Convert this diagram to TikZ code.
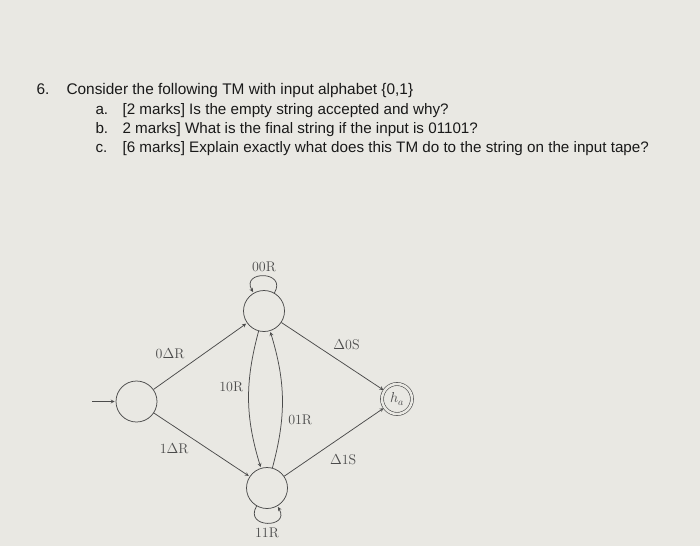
\documentclass[tikz,border=0pt]{standalone}
\usepackage{amsmath}
\usepackage{fontspec}
\newfontfamily\qfont{Liberation Sans}
\usetikzlibrary{arrows, positioning, automata}

\definecolor{paper}{RGB}{233,232,227}
\definecolor{ink}{RGB}{25,25,25}
\definecolor{pen}{RGB}{75,75,75}

\begin{document}
\begin{tikzpicture}[x=1pt, y=-1pt,
    ->,
    >=stealth,
    shorten >=1pt,
    state/.style={circle, draw=pen, line width=0.75pt, minimum size=41pt, inner sep=0pt},
    accept/.style={circle, draw=pen, line width=0.6pt, double=paper, double distance=2.5pt, minimum size=30pt, inner sep=0pt},
    lbl/.style={font=\fontsize{14}{14}\selectfont, text=pen},
    question/.style={font=\qfont\fontsize{15.2}{17}\selectfont, anchor=base west, text=ink},
    mystyle/.style={->, pen, line width=0.75pt}
    ]
    \fill[paper] (0,0) rectangle (700,546);
    \useasboundingbox (0,0) rectangle (700,546);
    % Question
    \node[question, font=\qfont\fontsize{15.4}{17}\selectfont] (N6) at (33,94) {6.};
    \node[question, font=\qfont\fontsize{15.4}{17}\selectfont] (Q) at (63,94) {Consider the following TM with input alphabet \{0,1\}};
    \node[question] (Ia) at (92,114) {a.};
    \node[question] (Qa) at (119,114) {[2 marks] Is the empty string accepted and why?};
    \node[question] (Ib) at (92,133) {b.};
    \node[question] (Qb) at (119,133) {2 marks] What is the final string if the input is 01101?};
    \node[question] (Ic) at (92,152) {c.};
    \node[question] (Qc) at (119,152) {[6 marks] Explain exactly what does this TM do to the string on the input tape?};
    % Nodes
    \node[state] (q0) at (136.5,401.5) {};
    \node[state] (q1) at (264,311) {};
    \node[state] (q2) at (267,488) {};
    \node[accept] (ha) at (397,399) {\textcolor{pen}{\fontsize{14}{14}\selectfont$h_a$}};
    \coordinate (start) at (92,401.5);
    % Edges
    \path (start) edge [mystyle] (q0);
    \path (q0) edge [mystyle] node[lbl, above left=2pt and 0pt, pos=0.37] {0$\Delta$R} (q1);
    \path (q0) edge [mystyle] node[lbl, below left=2pt and 0pt, pos=0.4] {1$\Delta$R} (q2);
    \path (q1) edge [mystyle, out=60, in=120, looseness=3.2] node[lbl, above=1pt] {00R} (q1);
    \path (q2) edge [mystyle, out=240, in=300, looseness=3.2] node[lbl, below=1pt] {11R} (q2);
    \path (q1) edge [mystyle, bend right=16] node[lbl, left=2pt, pos=0.4] {10R} (q2);
    \path (q2) edge [mystyle, bend right=16] node[lbl, right=3pt, pos=0.34] {01R} (q1);
    \path (q1) edge [mystyle] node[lbl, above right=0pt and 2pt, pos=0.45] {$\Delta$0S} (ha);
    \path (q2) edge [mystyle] node[lbl, below right=4pt and 0pt, pos=0.42] {$\Delta$1S} (ha);
\end{tikzpicture}
\end{document}
